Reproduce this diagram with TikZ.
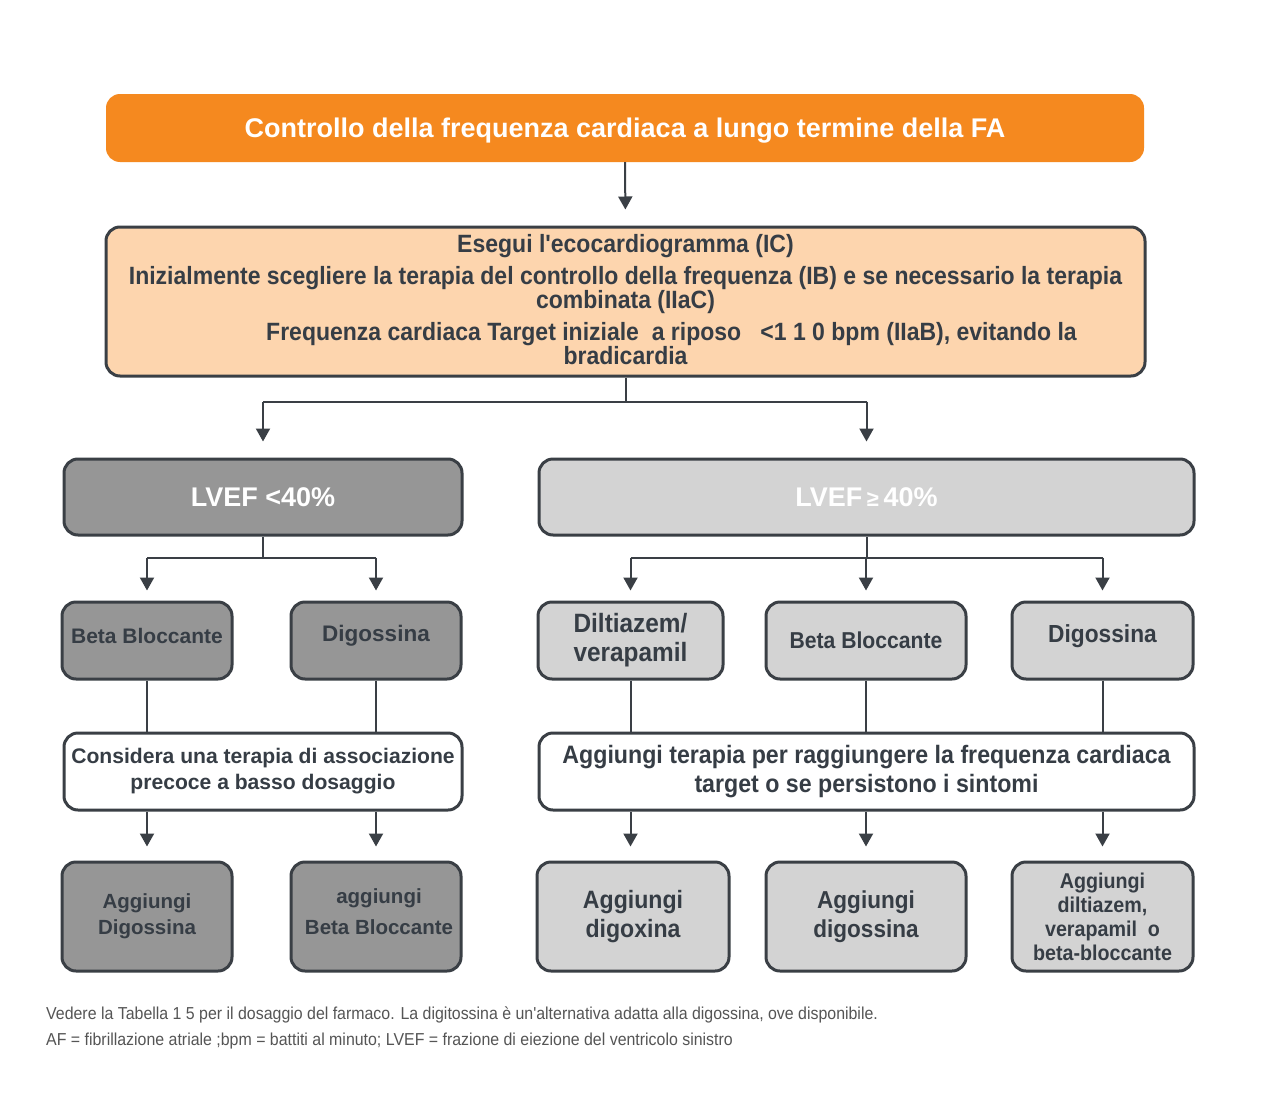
\documentclass[tikz,border=0pt]{standalone}
\usepackage{fontspec}
\setmainfont{Liberation Sans}
\newfontfamily\narrowfont{Liberation Sans}[FakeStretch=0.92]
\usetikzlibrary{arrows.meta,calc}
\definecolor{orangeT}{HTML}{F5891F}
\definecolor{peach}{HTML}{FDD5AE}
\definecolor{darkfill}{HTML}{969696}
\definecolor{lightfill}{HTML}{D3D3D3}
\definecolor{bord}{HTML}{3A3F45}
\definecolor{txt}{HTML}{363D45}
\definecolor{foot}{HTML}{555555}
\tikzset{
  box/.style={draw=bord, line width=3pt, rounded corners=14pt, inner sep=0pt, align=center, text=txt},
  darkbox/.style={box, fill=darkfill},
  lightbox/.style={box, fill=lightfill},
  whitebox/.style={box, fill=white},
  conn/.style={draw=bord, line width=2pt},
  arr/.style={conn, -{Triangle[width=14pt,length=13pt]}},
}
\begin{document}
\begin{tikzpicture}[x=1pt,y=-1pt]
\useasboundingbox[fill=white] (0,0) rectangle (1280,1100);

% title
\node[fill=orangeT, rounded corners=14pt, inner sep=0pt, minimum width=1038pt, minimum height=68pt,
  text depth=0pt, text=white, font=\bfseries\fontsize{27}{30}\selectfont] (title) at (625,128)
  {Controllo della frequenza cardiaca a lungo termine della FA};

% box2
\node[box, fill=peach, minimum width=1039pt, minimum height=149pt,
  font=\narrowfont\bfseries\fontsize{25}{24}\selectfont] (eco) at (625.5,301.5)
  {Esegui l'ecocardiogramma (IC)\\[8pt]
   Inizialmente scegliere la terapia del controllo della frequenza (IB) e se necessario la terapia\\
   combinata (IIaC)\\[8pt]
   \hspace*{92pt}Frequenza cardiaca Target iniziale\ \ a riposo\ \ \ <1 1 0 bpm (IIaB), evitando la\\
   bradicardia\\[-19pt]};

% LVEF boxes
\node[darkbox, minimum width=398pt, minimum height=76pt, text=white,
  font=\bfseries\fontsize{27}{30}\selectfont] (lv1) at (263,497) {LVEF <40\%};
\node[lightbox, minimum width=655pt, minimum height=76pt, text=white,
  font=\bfseries\fontsize{27}{30}\selectfont] (lv2) at (866.5,497) {LVEF\,{\fontsize{22}{24}\selectfont ≥}\,40\%};

% row 3
\node[darkbox, minimum width=170pt, minimum height=77pt, font=\bfseries\fontsize{21}{24}\selectfont] (b1) at (147,640.5) {Beta Bloccante\\[-14pt]};
\node[darkbox, minimum width=170pt, minimum height=77pt, font=\bfseries\fontsize{22.5}{24}\selectfont] (d1) at (376,640.5) {Digossina\\[-10pt]};
\node[lightbox, minimum width=185pt, minimum height=77pt, font=\narrowfont\bfseries\fontsize{26.5}{29}\selectfont] (dv) at (630.5,640.5) {Diltiazem/\\verapamil};
\node[lightbox, minimum width=200pt, minimum height=77pt, font=\narrowfont\bfseries\fontsize{23}{24}\selectfont] (b2) at (866,640.5) {Beta Bloccante};
\node[lightbox, minimum width=181pt, minimum height=77pt, font=\narrowfont\bfseries\fontsize{24.7}{24}\selectfont] (d2) at (1102.5,640.5) {Digossina\\[-10pt]};

% row 4
\node[whitebox, minimum width=398pt, minimum height=77pt, font=\bfseries\fontsize{21.1}{26}\selectfont] (cons) at (263,771.5)
  {Considera una terapia di associazione\\precoce a basso dosaggio};
\node[whitebox, minimum width=655pt, minimum height=77pt, font=\narrowfont\bfseries\fontsize{25.2}{29}\selectfont] (agg) at (866.5,771.5)
  {Aggiungi terapia per raggiungere la frequenza cardiaca\\target o se persistono i sintomi};

% row 5
\node[darkbox, minimum width=170pt, minimum height=109pt, font=\bfseries\fontsize{20.5}{26}\selectfont] (a1) at (147,916.5) {Aggiungi\\Digossina};
\node[darkbox, minimum width=170pt, minimum height=109pt, font=\bfseries\fontsize{20.5}{31}\selectfont] (a2) at (376,916.5) {\hspace*{6pt}aggiungi\\\hspace*{6pt}Beta Bloccante\\[-21pt]};
\node[lightbox, minimum width=192pt, minimum height=109pt, font=\narrowfont\bfseries\fontsize{25.1}{29}\selectfont] (a3) at (633,916.5) {Aggiungi\\digoxina};
\node[lightbox, minimum width=200pt, minimum height=109pt, font=\narrowfont\bfseries\fontsize{24.5}{29}\selectfont] (a4) at (866,916.5) {Aggiungi\\digossina};
\node[lightbox, minimum width=181pt, minimum height=109pt, font=\narrowfont\bfseries\fontsize{21.4}{24}\selectfont] (a5) at (1102.5,916.5) {Aggiungi\\diltiazem,\\verapamil\ \ o\\beta-bloccante};

% connectors
\draw[arr, shorten >=16pt] (title.south) -- (eco.north);
\draw[conn] (eco.south) -- ++(0,24) coordinate (j1);
\draw[conn] (j1 -| lv1.north) -- (j1 -| lv2.north);
\draw[arr, shorten >=16pt] (j1 -| lv1.north) -- (lv1.north);
\draw[arr, shorten >=16pt] (j1 -| lv2.north) -- (lv2.north);

\draw[conn] (lv1.south) -- ++(0,21) coordinate (j2);
\draw[conn] (j2 -| b1.north) -- (j2 -| d1.north);
\draw[arr, shorten >=10pt] (j2 -| b1.north) -- (b1.north);
\draw[arr, shorten >=10pt] (j2 -| d1.north) -- (d1.north);

\draw[conn] (lv2.south) -- ++(0,21) coordinate (j3);
\draw[conn] (j3 -| dv.north) -- (j3 -| d2.north);
\draw[arr, shorten >=10pt] (j3 -| dv.north) -- (dv.north);
\draw[arr, shorten >=10pt] (j3 -| b2.north) -- (b2.north);
\draw[arr, shorten >=10pt] (j3 -| d2.north) -- (d2.north);

\draw[conn] (b1.south) -- (b1.south |- cons.north);
\draw[conn] (d1.south) -- (d1.south |- cons.north);
\draw[conn] (dv.south) -- (dv.south |- agg.north);
\draw[conn] (b2.south) -- (b2.south |- agg.north);
\draw[conn] (d2.south) -- (d2.south |- agg.north);

\draw[arr, shorten >=14pt] (cons.south -| a1.north) -- (a1.north);
\draw[arr, shorten >=14pt] (cons.south -| a2.north) -- (a2.north);
\draw[arr, shorten >=14pt] (agg.south -| dv.south) -- (dv.south |- a3.north);
\draw[arr, shorten >=14pt] (agg.south -| a4.north) -- (a4.north);
\draw[arr, shorten >=14pt] (agg.south -| a5.north) -- (a5.north);

% footnotes
\node[anchor=base west, inner sep=0pt, text=foot, font=\narrowfont\fontsize{17.3}{18}\selectfont] (f1) at (46,1019)
  {Vedere la Tabella 1 5 per il dosaggio del farmaco. La digitossina è un'alternativa adatta alla digossina, ove disponibile.};
\node[anchor=base west, inner sep=0pt, text=foot, font=\narrowfont\fontsize{17.3}{18}\selectfont] (f2) at (46,1045)
  {AF = fibrillazione atriale ;bpm = battiti al minuto; LVEF = frazione di eiezione del ventricolo sinistro};
\end{tikzpicture}
\end{document}
